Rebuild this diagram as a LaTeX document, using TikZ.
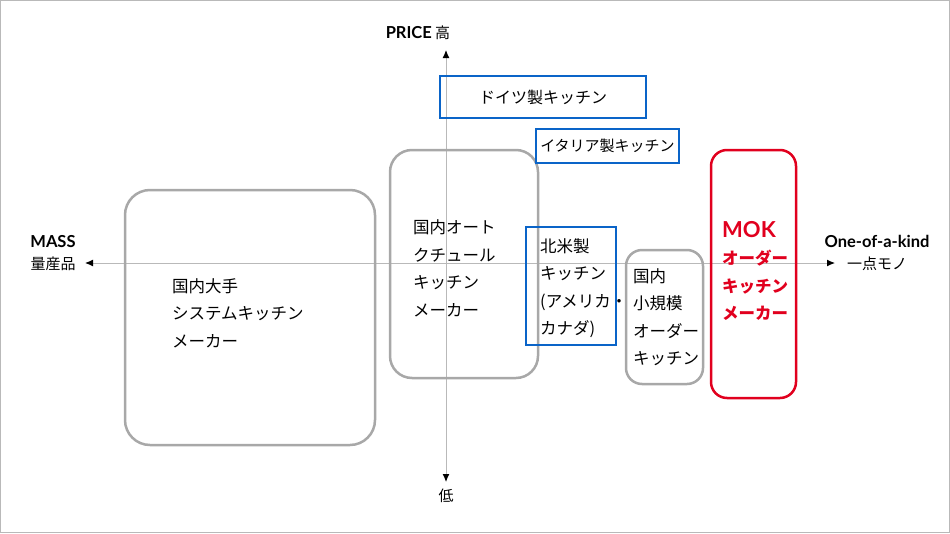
\documentclass[tikz,border=0pt]{standalone}
\usepackage{fontspec}
\setmainfont{Noto Sans CJK JP}
\newfontfamily\latinfont{Lato}
\usetikzlibrary{positioning, arrows.meta, calc}
\definecolor{boxgray}{RGB}{168,168,168}
\definecolor{axisgray}{RGB}{185,185,185}
\definecolor{jpblue}{RGB}{10,100,200}
\definecolor{mokred}{RGB}{225,0,30}

\begin{document}
\begin{tikzpicture}[
    x=1pt, y=-1pt,
    >={Latex[length=8pt, width=7pt, color=black]},
    grp/.style={
        rectangle, rounded corners=#1,
        draw=boxgray, line width=2.5pt, inner sep=0pt
    },
    grp/.default=16pt,
    imp/.style={
        rectangle, draw=jpblue, line width=2.5pt, inner sep=0pt,
        font=\fontsize{16}{20}\selectfont
    },
    txt/.style={
        anchor=west, inner sep=0pt, align=left,
        font=\fontsize{16.5}{27.5}\selectfont
    },
    axl/.style={align=center, inner sep=0pt, font=\fontsize{15}{22}\selectfont},
    axis/.style={axisgray, line width=1pt},
]

\useasboundingbox (0,0) rectangle (950,533);
\draw[axisgray, line width=1pt] (0.5,0.5) rectangle (949.5,532.5);

% Axes
\coordinate (xl) at (85,263);
\coordinate (xr) at (835,263);
\coordinate (yt) at (446,50);
\coordinate (yb) at (446,482);
\draw[axis, <->] (xl) -- (xr);
\draw[axis, <->] (yb) -- (yt);

\node[axl] (price) at (418,33) {{\fontsize{16.5}{20}\latinfont\bfseries PRICE}\ 高};
\node[axl] (low) at (446,496) {低};
\node[axl] (mass) at (53,253) {{\fontsize{16.5}{20}\latinfont\bfseries MASS}\\量産品};
\node[axl] (one) at (877,253) {{\fontsize{16.5}{20}\latinfont\bfseries One-of-a-kind}\\一点モノ};

% Grey groups
\node[grp=25pt, minimum width=250pt, minimum height=255pt] (big) at (250,317.5) {};
\node[grp=22pt, minimum width=148pt, minimum height=228pt] (auto) at (464,264) {};
\node[grp=16pt, minimum width=77pt, minimum height=134pt] (small) at (664.5,317) {};

\node[txt] (bigt) at (172,313) {国内大手\\システムキッチン\\メーカー};
\node[txt] (autot) at (413,268.5) {国内オート\\クチュール\\キッチン\\メーカー};
\node[txt] (smallt) at (633,317) {国内\\小規模\\オーダー\\キッチン};

% Imported kitchens
\node[imp, minimum width=206pt, minimum height=42pt] (de) at (543,97) {ドイツ製キッチン};
\node[imp, minimum width=143pt, minimum height=34pt, font=\fontsize{15}{18}\selectfont] (it) at (607.5,146) {イタリア製キッチン};
\node[imp, minimum width=90pt, minimum height=118pt] (na) at (571,286) {};
\node[txt] (nat) at (540,288) {北米製\\キッチン\\(アメリカ・\\カナダ)};

% MOK
\node[grp, draw=mokred, minimum width=85pt, minimum height=248pt] (mok) at (753.5,274) {};
\node[txt, text=mokred, font=\fontsize{16.5}{27.5}\selectfont\bfseries] (mokt) at (722,271)
    {{\fontsize{22}{27.5}\selectfont\latinfont\bfseries MOK}\\オーダー\\キッチン\\メーカー};

\end{tikzpicture}
\end{document}
